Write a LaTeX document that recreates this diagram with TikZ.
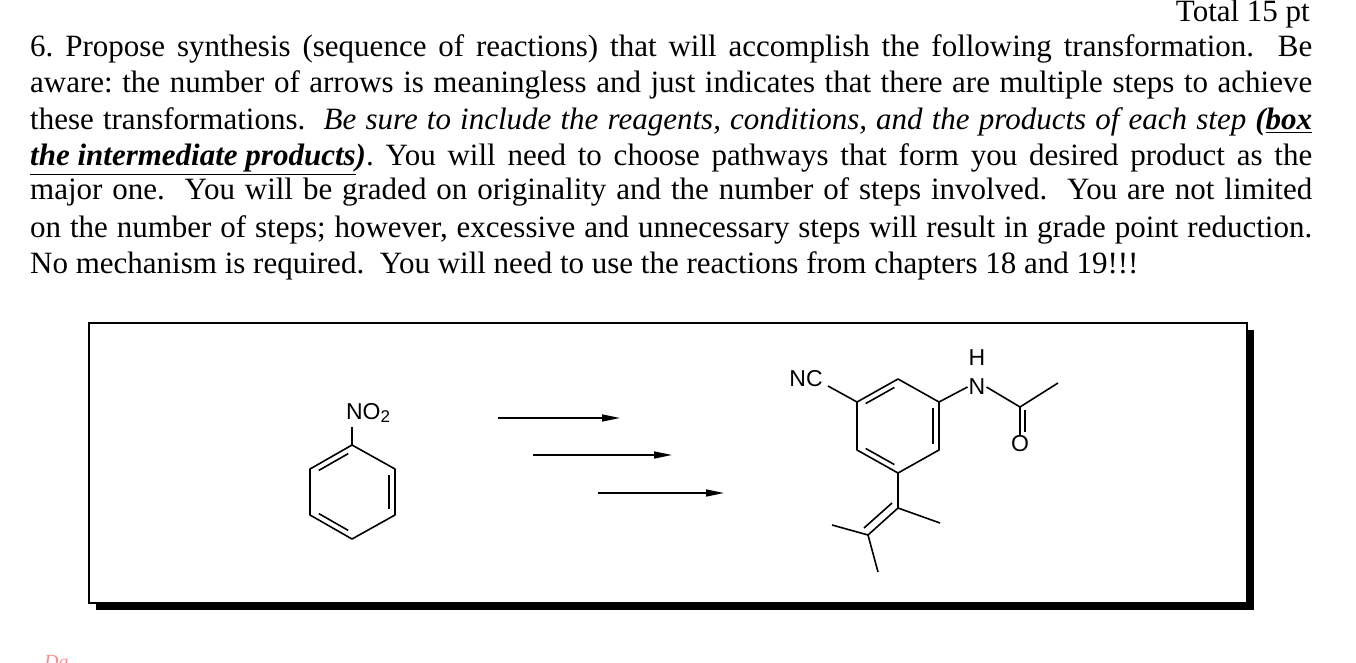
\documentclass[tikz,border=0pt]{standalone}
\usepackage{fontspec}
\setmainfont{Liberation Serif}
\newfontfamily\chemfont{Liberation Sans}
\usetikzlibrary{arrows.meta,calc}
\tikzset{
  bond/.style={line width=1.6pt},
  rxn/.style={line width=1.5pt,-{Triangle[length=18pt,width=7pt]}},
  lbl/.style={font=\chemfont\fontsize{23}{25}\selectfont,inner sep=1pt},
  txt/.style={anchor=base west,inner sep=0pt,font=\frenchspacing\fontsize{31}{36}\selectfont}
}
\newcommand{\jl}[1]{\makebox[1282pt][s]{#1}}
\begin{document}
\begin{tikzpicture}[x=1pt,y=-1pt]
\useasboundingbox (0,0) rectangle (1356,663);
\fill[white] (0,0) rectangle (1356,663);
\node[anchor=base east,inner sep=0pt,font=\fontsize{31}{36}\selectfont] (tot) at (1310,22) {Total 15 pt};
\node[txt] (l1) at (30,57) {\jl{6. Propose synthesis (sequence of reactions) that will accomplish the following transformation.\ \ Be}};
\node[txt] (l2) at (30,93) {\jl{aware: the number of arrows is meaningless and just indicates that there are multiple steps to achieve}};
\node[txt] (l3) at (30,130) {\jl{these transformations.\ \ \textit{Be sure to include the reagents, conditions, and the products of each step} \textbf{\textit{(\underline{box}}}}};
\node[txt] (l4) at (30,166) {\jl{\textbf{\textit{\underline{the intermediate products})}}. You will need to choose pathways that form you desired product as the}};
\node[txt] (l5) at (30,200) {\jl{major one.\ \ You will be graded on originality and the number of steps involved.\ \ You are not limited}};
\node[txt] (l6) at (30,237) {\jl{on the number of steps; however, excessive and unnecessary steps will result in grade point reduction.}};
\node[txt] (l7) at (30,273) {No mechanism is required.\ \ You will need to use the reactions from chapters 18 and 19!!!};

% box with shadow
\fill[black] (96,330) rectangle (1254,610);
\draw[line width=1.5pt,fill=white] (89,323) rectangle (1247,603);

% nitrobenzene
\coordinate (a1) at (352,445); \coordinate (a2) at (395,469); \coordinate (a3) at (395,515);
\coordinate (a4) at (352,539); \coordinate (a5) at (310,515); \coordinate (a6) at (310,469);
\draw[bond,line join=round] (a1)--(a2)--(a3)--(a4)--(a5)--(a6)--cycle;
\draw[bond] ($(a1)!0.15!(a6)+(2.5,5)$) -- ($(a1)!0.85!(a6)+(2.5,5)$);
\draw[bond] (389,475)--(389,509);
\draw[bond] ($(a4)!0.15!(a5)+(2.5,-5)$) -- ($(a4)!0.85!(a5)+(2.5,-5)$);
\node[lbl] (no2) at (368,413) {NO\raisebox{-0.3ex}{\fontsize{17}{17}\selectfont 2}};
\draw[bond] (a1) -- (352,427);

% arrows
\coordinate (r1s) at (498,418); \coordinate (r1e) at (620,418);
\coordinate (r2s) at (533,455); \coordinate (r2e) at (672,455);
\coordinate (r3s) at (598,493); \coordinate (r3e) at (724,493);
\draw[rxn] (r1s)--(r1e);
\draw[rxn] (r2s)--(r2e);
\draw[rxn] (r3s)--(r3e);

% product
\coordinate (b1) at (898,379); \coordinate (b2) at (939,402); \coordinate (b3) at (939,450);
\coordinate (b4) at (898,473); \coordinate (b5) at (857,450); \coordinate (b6) at (857,402);
\draw[bond,line join=round] (b1)--(b2)--(b3)--(b4)--(b5)--(b6)--cycle;
\draw[bond] ($(b1)!0.15!(b6)+(2.5,5)$) -- ($(b1)!0.85!(b6)+(2.5,5)$);
\draw[bond] (933,408)--(933,444);
\draw[bond] ($(b4)!0.15!(b5)+(2.5,-5)$) -- ($(b4)!0.85!(b5)+(2.5,-5)$);
\node[lbl] (nc) at (806,379) {NC};
\draw[bond] (b6) -- (828,386);
\node[lbl] (n) at (977,387) {N};
\node[lbl] (h) at (977,358) {H};
\draw[bond] (b2) -- (n.west);
\coordinate (cc) at (1020,407); \coordinate (me) at (1058,383);
\draw[bond] (n.east) -- (cc) -- (me);
\node[lbl] (o) at (1020,444) {O};
\draw[bond] (cc) -- (o.north);
\draw[bond] (1025,410) -- (1025,432);
\coordinate (c1) at (898,508); \coordinate (c2) at (868,535);
\coordinate (m1) at (940,523); \coordinate (m2) at (832,525); \coordinate (m3) at (878,572);
\draw[bond] (b4)--(c1)--(m1);
\draw[bond] (c1)--(c2);
\draw[bond] (892,503)--(864,528);
\draw[bond] (c2)--(m2);
\draw[bond] (c2)--(m3);

\node[anchor=base west,inner sep=0pt,text=red!45,font=\fontsize{20}{20}\selectfont\itshape] (da) at (44,668) {Da};
\end{tikzpicture}
\end{document}
